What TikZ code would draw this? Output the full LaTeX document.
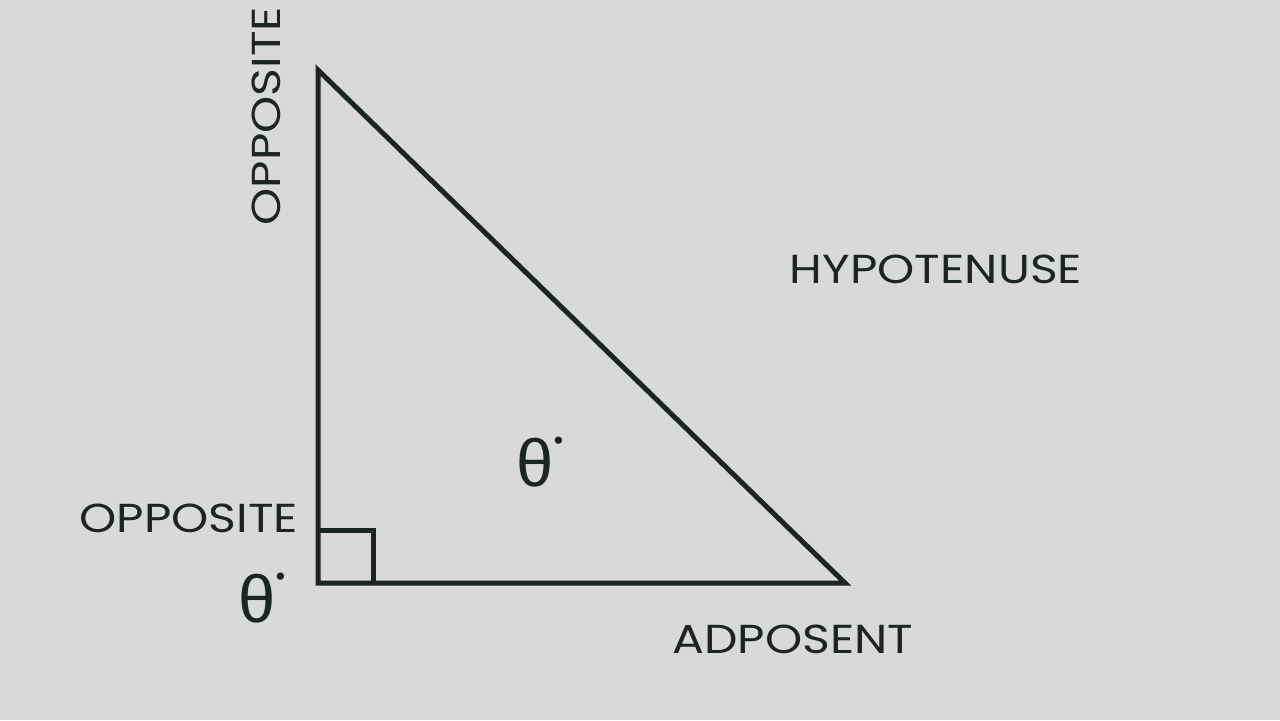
\documentclass[tikz,border=0pt]{standalone}
\usepackage{fontspec}
\setmainfont{Poppins}[FakeStretch=1.17]
\newfontfamily\thetafont{Liberation Sans}
\definecolor{bg}{HTML}{D9D9D9}
\definecolor{ink}{HTML}{1C2424}
\tikzset{
  label/.style={text=ink,font=\fontsize{11.5}{12}\selectfont,inner sep=0pt},
  angle/.style={text=ink,font=\thetafont\fontsize{19}{20}\selectfont,inner sep=0pt}
}
\newcommand{\thdeg}{θ\raisebox{1.05ex}{\scalebox{0.4}{•}}}
\begin{document}
\begin{tikzpicture}[x=0.01cm,y=-0.01cm]
  \fill[bg] (0,0) rectangle (1280,720);
  \coordinate (top) at (318,70);
  \coordinate (c) at (318,583);
  \coordinate (r) at (845,583);
  \draw[ink,line width=5pt*0.2835,line join=miter] (top) -- (c) -- (r) -- cycle;
  \draw[ink,line width=5pt*0.2835] (c) ++(0,-53) -| ++(55,53);
  \node[label,rotate=90] (oppv) at (266,116) {OPPOSITE};
  \node[label] (hyp) at (936,269) {HYPOTENUSE};
  \node[label] (opph) at (189,518) {OPPOSITE};
  \node[label] (adj) at (793,639) {ADPOSENT};
  \node[angle] (th1) at (540,462) {\thdeg};
  \node[angle] (th2) at (262,598) {\thdeg};
\end{tikzpicture}
\end{document}
